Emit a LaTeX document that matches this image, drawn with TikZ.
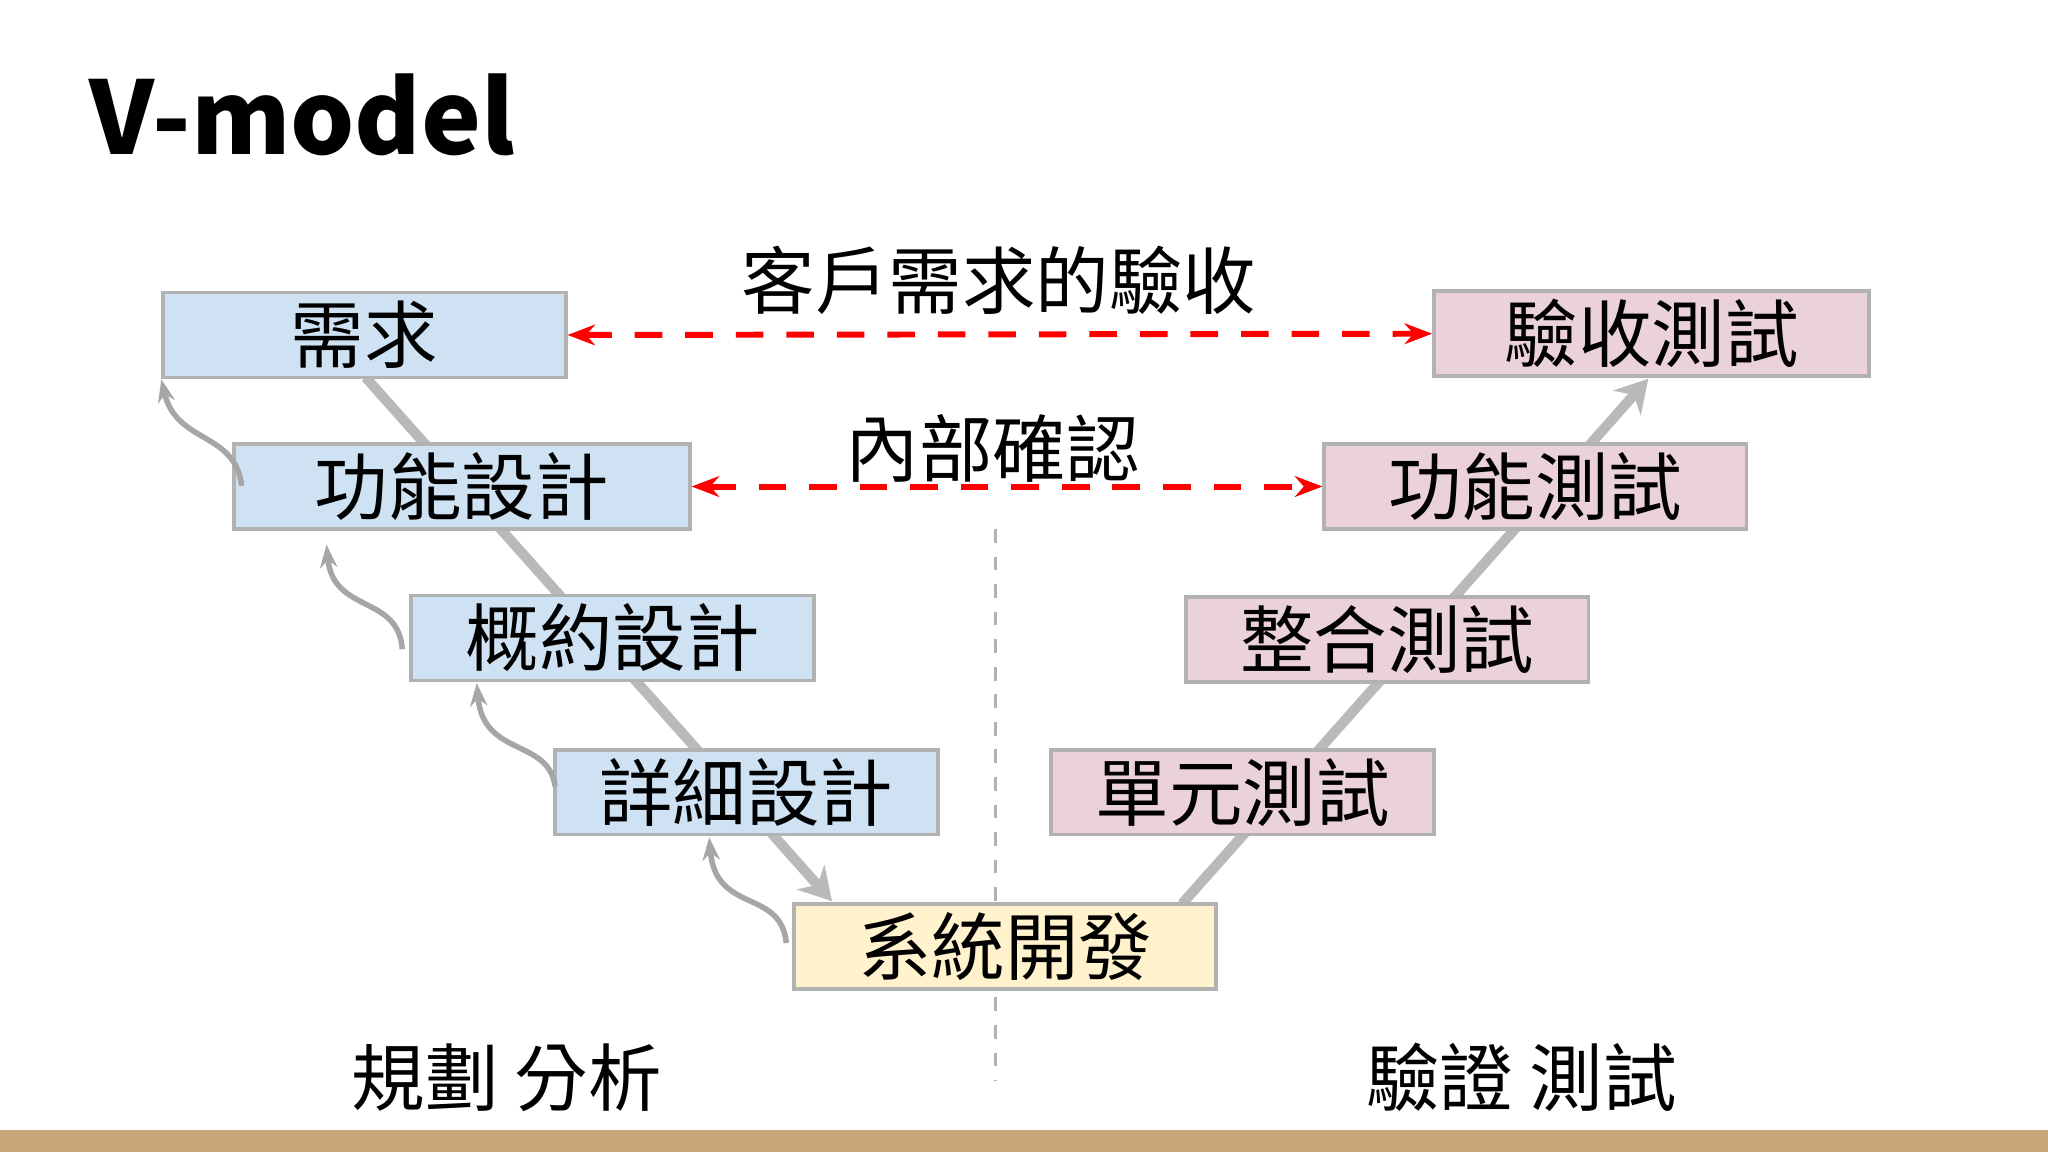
\documentclass[tikz,border=0pt]{standalone}
\usepackage{fontspec}
\setmainfont{Noto Sans CJK TC}
\usetikzlibrary{arrows.meta}
\definecolor{bl}{HTML}{CFE2F3}
\definecolor{yl}{HTML}{FFF2CC}
\definecolor{pk}{HTML}{EAD1DC}
\definecolor{bar}{HTML}{C8A67A}
\tikzset{
 box/.style={draw=gray!60,line width=0.8pt,inner sep=0pt,font=\fontsize{16}{18}\selectfont},
 lbl/.style={font=\fontsize{16}{18}\selectfont,inner sep=0pt},
 vline/.style={gray!55,line width=2.2pt,-{Stealth[length=7pt,width=8pt]}},
 link/.style={red,line width=1.3pt,dash pattern=on 6pt off 5pt,{Stealth[length=6pt]}-{Stealth[length=6pt]}},
 back/.style={gray!70,line width=1.2pt,-{Stealth[length=5pt]}}
}
\begin{document}
\begin{tikzpicture}[x=0.01cm,y=-0.01cm]
\useasboundingbox (0,0) rectangle (1568,882);
\fill[bar] (0,865) rectangle (1568,882);
\node[font=\fontsize{22}{24}\selectfont\bfseries,anchor=west,inner sep=0pt] (title) at (68,88) {V-model};
% V lines
\coordinate (l1) at (280,289); \coordinate (l2) at (637,690);
\coordinate (r1) at (905,692); \coordinate (r2) at (1262,290);
\draw[vline] (l1) -- (l2);
\draw[vline] (r1) -- (r2);
\draw[gray!60,dashed,line width=0.6pt] (762,405) -- (762,828);
% boxes
\node[box,fill=bl,minimum width=308\pgflinewidth*0+3.08cm,minimum height=0.65cm] (req) at (279,256.5) {需求};
\node[box,fill=bl,minimum width=3.49cm,minimum height=0.65cm] (fd) at (353.5,372.5) {功能設計};
\node[box,fill=bl,minimum width=3.08cm,minimum height=0.65cm] (cd) at (469,488.5) {概約設計};
\node[box,fill=bl,minimum width=2.93cm,minimum height=0.65cm] (dd) at (571.5,606.5) {詳細設計};
\node[box,fill=yl,minimum width=3.23cm,minimum height=0.65cm] (dev) at (769.5,724.5) {系統開發};
\node[box,fill=pk,minimum width=3.33cm,minimum height=0.65cm] (at) at (1264.5,255.5) {驗收測試};
\node[box,fill=pk,minimum width=3.23cm,minimum height=0.65cm] (ft) at (1175.5,372.5) {功能測試};
\node[box,fill=pk,minimum width=3.08cm,minimum height=0.65cm] (it) at (1062,489.5) {整合測試};
\node[box,fill=pk,minimum width=2.93cm,minimum height=0.65cm] (ut) at (951.5,606.5) {單元測試};
% dashed links
\draw[link] (req.east) -- (at.west);
\draw[link] (fd.east) -- (ft.west);
\node[lbl] (t1) at (765,215) {客戶需求的驗收};
\node[lbl] (t2) at (760,343) {內部確認};
% back arrows
\coordinate (b1) at (185,372); \coordinate (b2) at (308,497);
\coordinate (b3) at (425,602); \coordinate (b4) at (602,722);
\draw[back] (b1) .. controls (180,330) and (135,340) .. (req.south west);
\draw[back] (b2) .. controls (305,455) and (255,470) .. (250,417);
\draw[back] (b3) .. controls (420,565) and (370,580) .. (365,523);
\draw[back] (b4) .. controls (598,680) and (548,700) .. (543,641);
\node[lbl] (p1) at (388,825) {規劃 分析};
\node[lbl] (p2) at (1165,825) {驗證 測試};
\end{tikzpicture}
\end{document}
